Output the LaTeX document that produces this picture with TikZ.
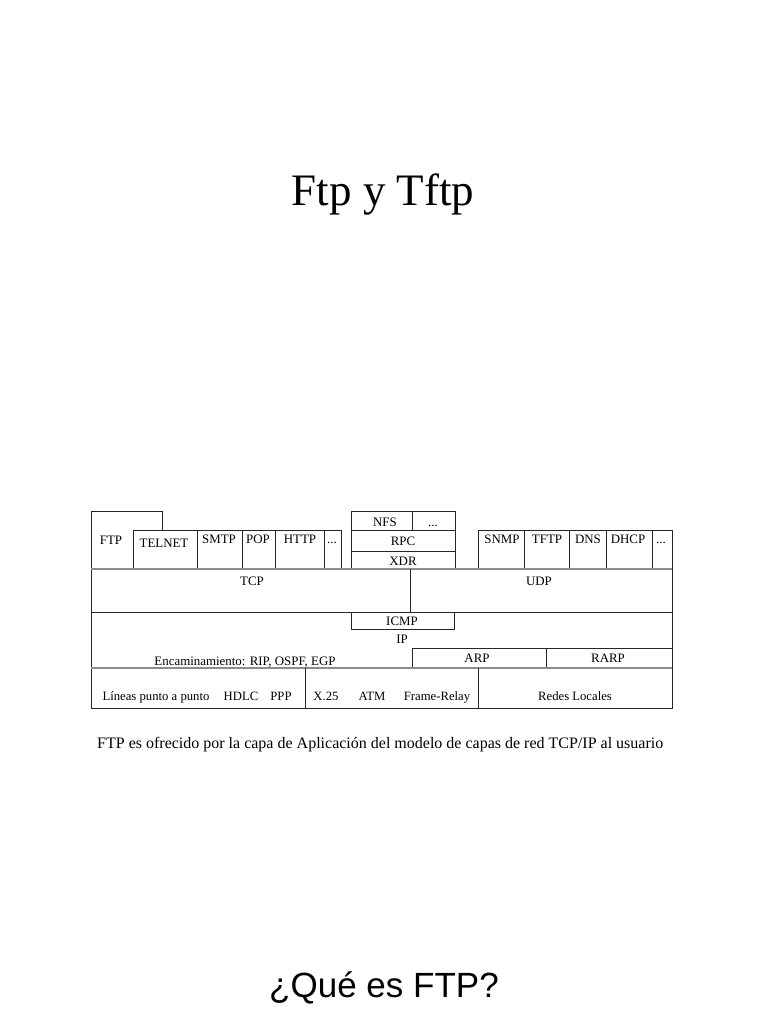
\documentclass[tikz,border=0pt]{standalone}
\usepackage{fontspec}
\setmainfont{Liberation Serif}
\newfontfamily\sansfnt{Liberation Sans}
\begin{document}
\begin{tikzpicture}[x=1pt,y=-1pt,
  ln/.style={draw=black!85, line width=1pt},
  dbl/.style={draw=black!80, line width=0.7pt, double=black!45, double distance=1.3pt},
  lbl/.style={font=\fontsize{12.9}{14}\selectfont, inner sep=0pt, anchor=base, text=black},
  lbls/.style={font=\fontsize{12.7}{14}\selectfont, inner sep=0pt, anchor=base, text=black}]
\useasboundingbox (0,0) rectangle (768,1024);
% titles
\node[font=\fontsize{45}{50}\selectfont, inner sep=0pt, anchor=base] (title) at (383,206) {Ftp y Tftp};
\node[font=\sansfnt\fontsize{35}{40}\selectfont, inner sep=0pt, anchor=base] (q) at (384,997) {¿Qué es FTP?};
\node[font=\fontsize{16}{18}\selectfont, inner sep=0pt, anchor=base west] (cap) at (97,748) {FTP es ofrecido por la capa de Aplicación del modelo de capas de red TCP/IP al usuario};
% outer frame
\draw[ln] (91,511) -- (91,708) -- (672,708) -- (672,530);
% FTP box
\draw[ln] (91,511) -- (162,511) -- (162,530);
% left app row
\draw[ln] (133,530) -- (341,530);
\draw[ln, line width=1.3pt] (133,530.5) -- (197,530.5);
\foreach \xx in {133,197,242,275,324,341} \draw[ln] (\xx,530) -- (\xx,569);
% NFS / RPC / XDR stack
\draw[ln] (351,569) -- (351,511) -- (455,511) -- (455,569);
\draw[ln] (351,530) -- (455,530);
\draw[ln] (351,551) -- (455,551);
\draw[ln] (412,511) -- (412,530);
% right app row
\draw[ln] (478,530) -- (672,530);
\foreach \xx in {478,524,569,606,652} \draw[ln] (\xx,530) -- (\xx,569);
% transport
\draw[dbl] (91,569) -- (672,569);
\draw[ln] (410,569) -- (410,612);
\draw[ln] (91,612) -- (672,612);
% ICMP box
\draw[ln] (351,612) -- (351,629) -- (454,629) -- (454,612);
% ARP/RARP
\draw[ln] (412,668) -- (412,648) -- (672,648);
\draw[ln] (546,648) -- (546,668);
\draw[dbl] (91,668) -- (672,668);
% link layer
\draw[ln] (305,668) -- (305,708);
\draw[ln] (478,668) -- (478,708);
% labels
\node[lbl] (ftp) at (111,544) {FTP};
\node[lbl] (telnet) at (164,547) {TELNET};
\node[lbl] (smtp) at (219,543) {SMTP};
\node[lbl] (pop) at (258,543) {POP};
\node[lbl] (http) at (300,543) {HTTP};
\node[lbl] (dots1) at (332,543) {...};
\node[lbl] (nfs) at (385,526) {NFS};
\node[lbl] (dots2) at (433,526) {...};
\node[lbl] (rpc) at (403,545) {RPC};
\node[lbl] (xdr) at (403,565) {XDR};
\node[lbl] (snmp) at (502,543) {SNMP};
\node[lbl] (tftp) at (547,543) {TFTP};
\node[lbl] (dns) at (588,543) {DNS};
\node[lbl] (dhcp) at (628,543) {DHCP};
\node[lbl] (dots3) at (661,543) {...};
\node[lbl] (tcp) at (252,585) {TCP};
\node[lbl] (udp) at (539,585) {UDP};
\node[lbl] (icmp) at (402,625) {ICMP};
\node[lbl] (ip) at (402,643) {IP};
\node[lbl] (arp) at (477,662) {ARP};
\node[lbl] (rarp) at (608,662) {RARP};
\node[lbl] (enc) at (245,665) {Encaminamiento: RIP, OSPF, EGP};
\node[lbls] (lin) at (156,700) {Líneas punto a punto};
\node[lbls] (hdlc) at (241,700) {HDLC};
\node[lbls] (ppp) at (281,700) {PPP};
\node[lbls] (x25) at (326,700) {X.25};
\node[lbls] (atm) at (372,700) {ATM};
\node[lbls] (fr) at (437,700) {Frame-Relay};
\node[lbls] (redes) at (575,700) {Redes Locales};
\end{tikzpicture}
\end{document}
